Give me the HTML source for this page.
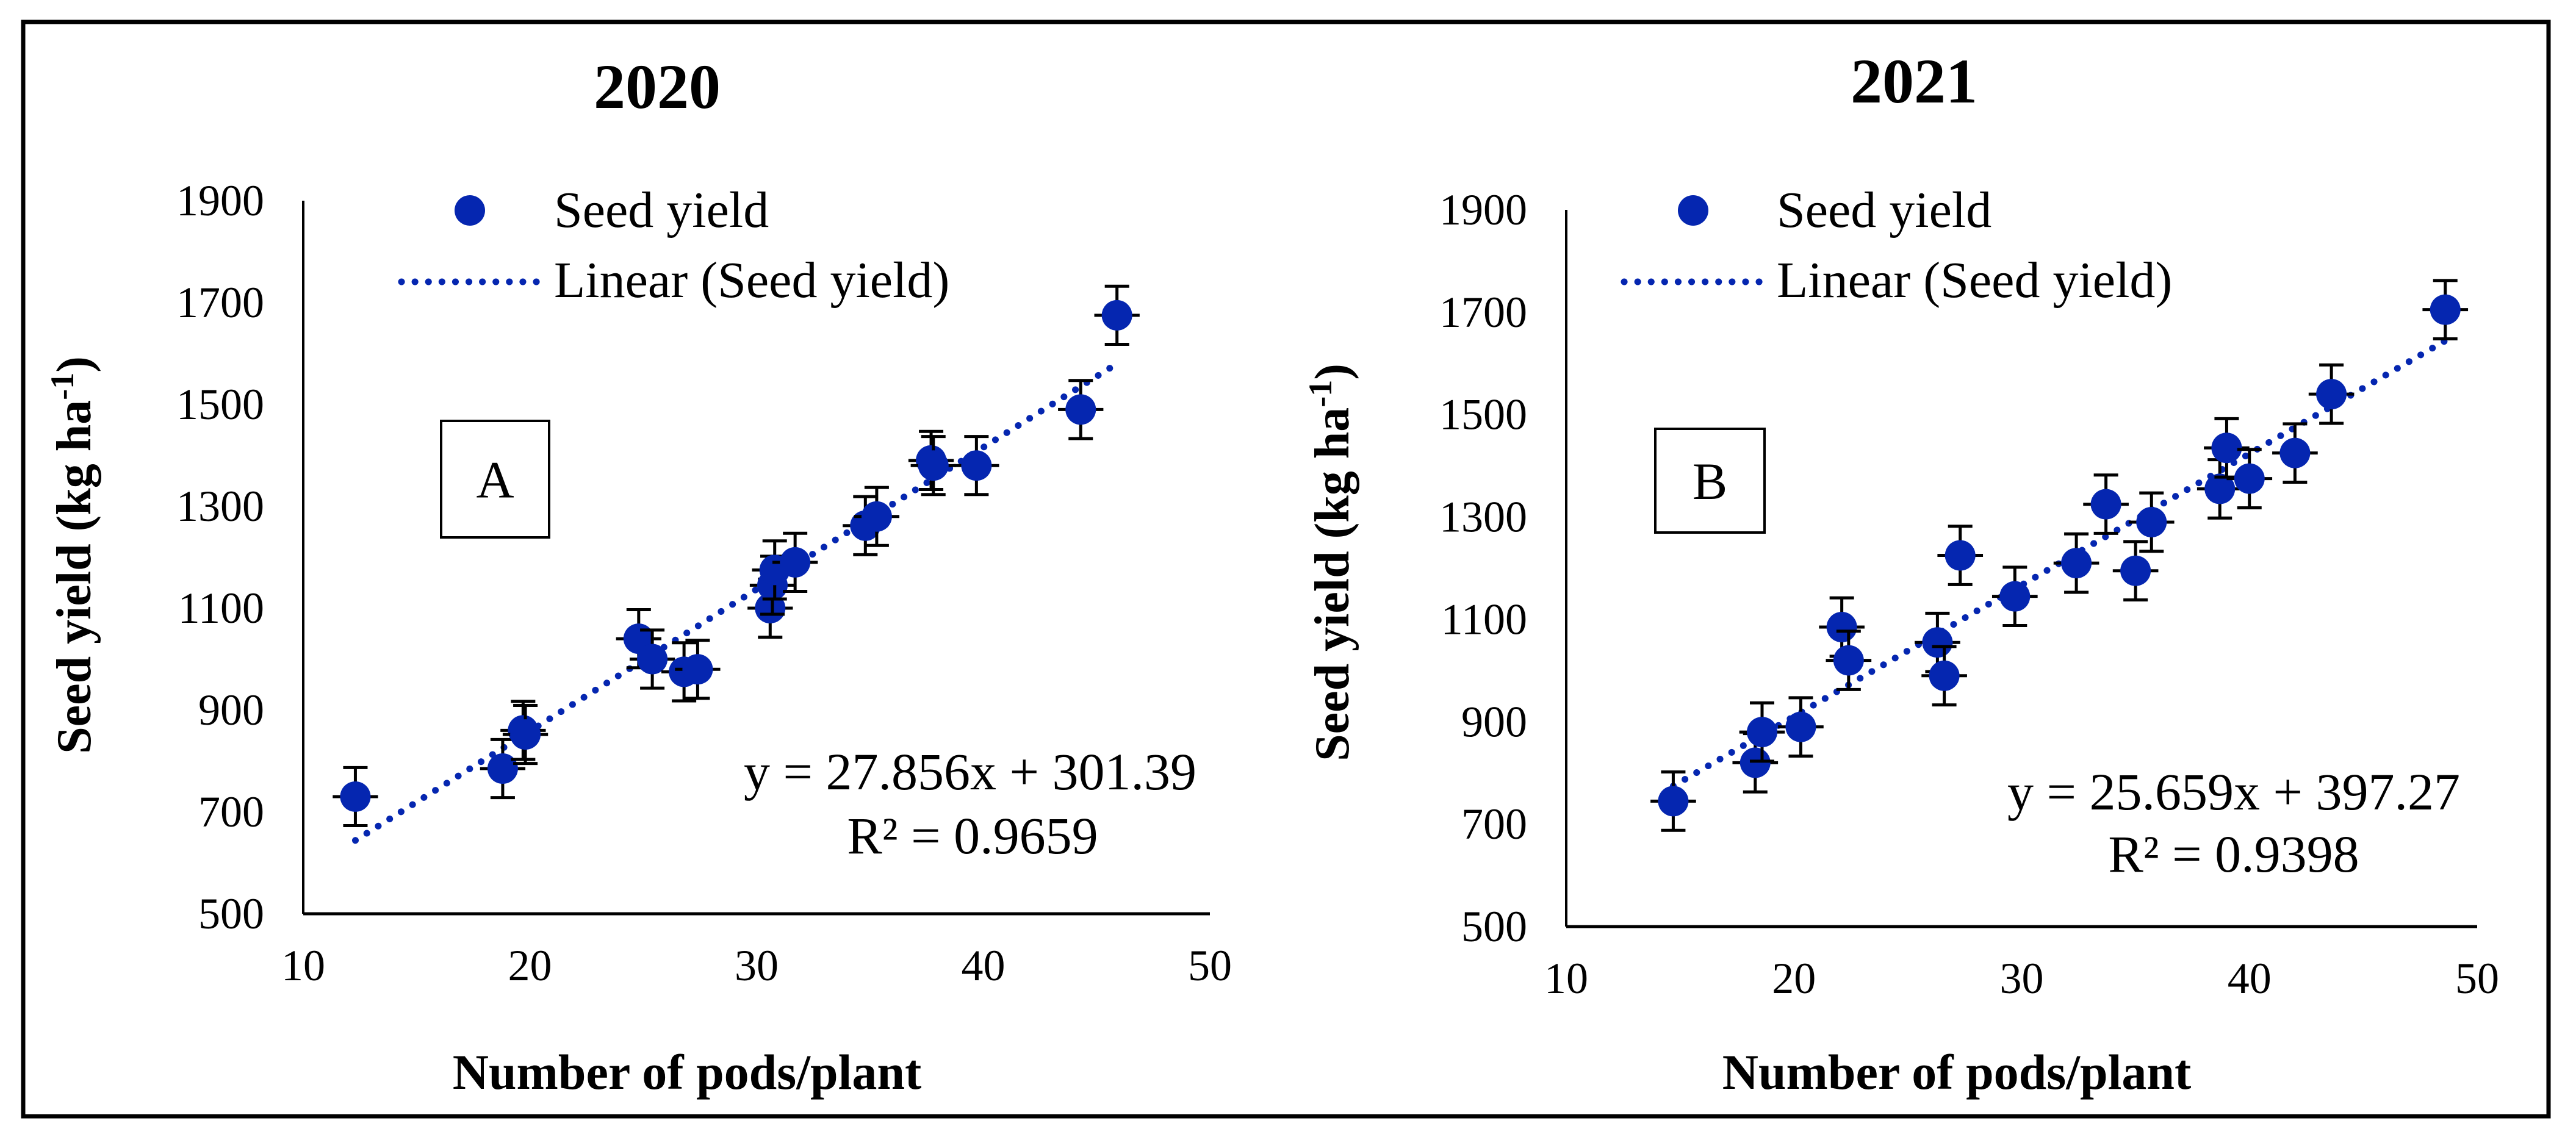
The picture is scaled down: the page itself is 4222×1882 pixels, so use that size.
<!DOCTYPE html>
<html><head><meta charset="utf-8"><style>
html,body{margin:0;padding:0;background:#fff;}
svg, svg text{font-family:"Liberation Serif","Times New Roman","DejaVu Serif",serif;}
</style></head><body>
<svg id="chart" width="4222" height="1877" viewBox="0 0 4222 1877" xmlns="http://www.w3.org/2000/svg" font-family="Liberation Serif, Times New Roman, DejaVu Serif, serif">
<rect x="38" y="36" width="4139" height="1794" fill="#fff" stroke="#000" stroke-width="7"/>
</svg>
<script>
const xTicks=[10,20,30,40,50];
const yTicks=[500,700,900,1100,1300,1500,1700,1900];
const xA=[12.3,18.8,19.7,19.8,24.8,25.4,26.8,27.4,30.6,30.7,30.8,31.7,34.8,35.3,37.7,37.8,39.7,44.3,45.9];
const yA=[730,785,860,852,1040,1000,975,980,1100,1145,1175,1190,1262,1280,1390,1380,1380,1490,1675];
const xB=[14.7,18.3,18.6,20.3,22.1,22.4,26.3,26.6,27.3,29.7,32.4,33.7,35.0,35.7,38.7,39.0,40.0,42.0,43.6,48.6];
const yB=[745,820,880,890,1085,1020,1055,990,1225,1145,1210,1325,1195,1290,1355,1435,1375,1425,1540,1705];
const fitA=[27.856,301.39];
const fitB=[25.659,397.27];
const eqA=["y = 27.856x + 301.39","R² = 0.9659"];
const eqB=["y = 25.659x + 397.27","R² = 0.9398"];
const errY=57, errX=1.0;
const NS="http://www.w3.org/2000/svg";
const FONT="Liberation Serif, Times New Roman, DejaVu Serif, serif";
const svg=document.getElementById('chart');
function mk(tag,attrs,parent,text){const e=document.createElementNS(NS,tag);for(const k in attrs)e.setAttribute(k,attrs[k]);if(tag==='text')e.setAttribute('font-family',FONT);if(text!==undefined)e.textContent=text;(parent||svg).appendChild(e);return e;}
const BLUE="#0526b0";
function panel(cfg){
  const g=mk('g',{});
  
  
  const sx=v=>cfg.x0+(v-10)/40*(cfg.x1-cfg.x0);
  const sy=v=>cfg.y0-(v-500)/1400*(cfg.y0-cfg.y1);
  let t=mk('text',{x:cfg.titleX,y:cfg.titleY,'font-size':104,'font-weight':'bold','text-anchor':'middle'},g,cfg.title);
  
  
  let ax=mk('line',{x1:cfg.x0,y1:sy(1900),x2:cfg.x0,y2:cfg.y0,stroke:'#000','stroke-width':4},g);
  
  
  ax=mk('line',{x1:cfg.x0,y1:cfg.y0,x2:cfg.x1,y2:cfg.y0,stroke:'#000','stroke-width':5},g);
  
  
  yTicks.forEach(v=>{const e=mk('text',{x:cfg.x0-64,y:sy(v)+24,'font-size':72,'text-anchor':'end'},g,v);
    
    });
  xTicks.forEach(v=>{const e=mk('text',{x:sx(v),y:cfg.xTickY,'font-size':72,'text-anchor':'middle'},g,v);
    
    });
  let yl=mk('text',{x:0,y:0,'font-size':80,'font-weight':'bold','text-anchor':'middle',transform:`translate(${cfg.ylX},${cfg.ylY}) rotate(-90)`},g);
  
  
  yl.appendChild(document.createTextNode('Seed yield (kg ha'));
  mk('tspan',{dy:-28,'font-size':54},yl,'-1');
  mk('tspan',{dy:28},yl,')');
  let xl=mk('text',{x:cfg.xlX,y:1785,'font-size':82,'font-weight':'bold','text-anchor':'middle'},g,'Number of pods/plant');
  
  
  const xs=cfg.xs, ys=cfg.ys;
  const xmin=Math.min(...xs), xmax=Math.max(...xs);
  let tl=mk('line',{x1:sx(xmin),y1:sy(cfg.fit[0]*xmin+cfg.fit[1]),x2:sx(xmax),y2:sy(cfg.fit[0]*xmax+cfg.fit[1]),stroke:BLUE,'stroke-width':11,'stroke-dasharray':'0.1 22','stroke-linecap':'round'},g);
  
  
  xs.forEach((x,i)=>{
    const y=ys[i];const cx=sx(x),cy=sy(y);
    const eg=mk('g',{stroke:'#000','stroke-width':5},g);
    
    
    mk('line',{x1:cx,y1:sy(y+errY),x2:cx,y2:sy(y-errY)},eg);
    mk('line',{x1:cx-20,y1:sy(y+errY),x2:cx+20,y2:sy(y+errY)},eg);
    mk('line',{x1:cx-20,y1:sy(y-errY),x2:cx+20,y2:sy(y-errY)},eg);
    mk('line',{x1:sx(x-errX),y1:cy,x2:sx(x+errX),y2:cy},eg);
    const c=mk('circle',{cx:cx,cy:cy,r:25,fill:BLUE},g);
    
    
  });
  const lg=mk('g',{},g);
  
  
  mk('circle',{cx:cfg.legDotX,cy:345,r:25,fill:BLUE},lg);
  mk('text',{x:cfg.legTextX,y:372,'font-size':84},lg,'Seed yield');
  mk('line',{x1:cfg.legLine[0],y1:462,x2:cfg.legLine[1],y2:462,stroke:BLUE,'stroke-width':11,'stroke-dasharray':'0.1 22','stroke-linecap':'round'},lg);
  mk('text',{x:cfg.legTextX,y:487,'font-size':84},lg,'Linear (Seed yield)');
  const b=cfg.box;
  const bx=mk('rect',{x:b[0],y:b[1],width:b[2],height:b[3],fill:'#fff',stroke:'#000','stroke-width':4},g);
  
  
  const bt=mk('text',{x:b[0]+b[2]/2,y:b[1]+b[3]/2+30,'font-size':86,'text-anchor':'middle'},g,cfg.letter);
  
  
  let e1=mk('text',{x:cfg.eq[0],y:cfg.eq[1],'font-size':86,'text-anchor':'middle'},g,cfg.eqText[0]);
  
  
  let e2=mk('text',{x:cfg.eq[2],y:cfg.eq[3],'font-size':86,'text-anchor':'middle'},g,cfg.eqText[1]);
  
  
}
panel({id:'2020',title:'2020',titleX:1077,titleY:177,x0:497,x1:1983,y0:1498,y1:329,xTickY:1607,ylX:148,ylY:910,xlX:1126,
  xs:xA,ys:yA,fit:fitA,legDotX:770,legTextX:908,legLine:[658,880],box:[723,690,177,191],letter:'A',
  eq:[1590,1294,1594,1399],eqText:eqA});
panel({id:'2021',title:'2021',titleX:3137,titleY:168,x0:2567,x1:4060,y0:1519,y1:344,xTickY:1628,ylX:2210,ylY:922,xlX:3207,
  xs:xB,ys:yB,fit:fitB,legDotX:2775,legTextX:2912,legLine:[2662,2889],box:[2713,703,179,170],letter:'B',
  eq:[3661,1327,3661,1429],eqText:eqB});
</script>
</body></html>
